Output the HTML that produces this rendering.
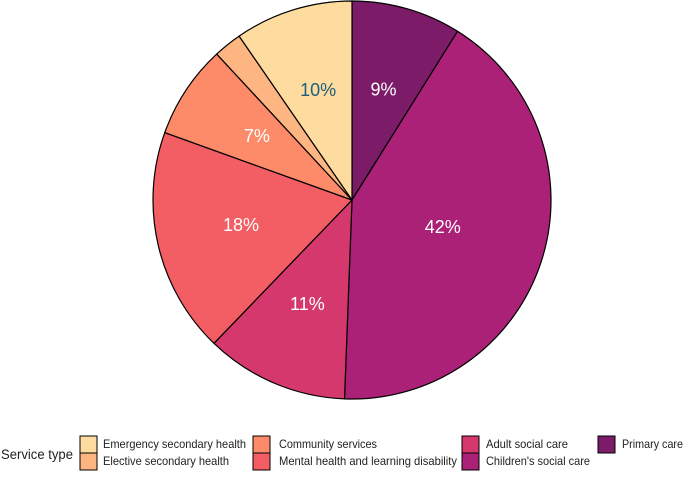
<!DOCTYPE html>
<html><head><meta charset="utf-8"><style>
body{margin:0;background:#fff;}
svg text{font-family:"Liberation Sans",sans-serif;}
</style></head><body>
<svg width="685" height="474" viewBox="0 0 685 474">
<g id="pie"></g>
<g id="legend">
<text x="1" y="459" font-size="13.5" textLength="72" lengthAdjust="spacingAndGlyphs" fill="#222">Service type</text>
</g>
</svg>
<script>
const categories=["Primary care","Children's social care","Adult social care","Mental health and learning disability","Community services","Elective secondary health","Emergency secondary health"];
const values=[8.9,41.7,11.6,18.3,7.6,2.3,9.6];
const labels=["9%","42%","11%","18%","7%","","10%"];
const colors=["#7c1b67","#aa2177","#d5386d","#f25e63","#fd8b69","#fdb681","#fedb9e"];
const NS="http://www.w3.org/2000/svg";
const cx=352,cy=200,R=199;
const total=values.reduce((a,b)=>a+b,0);
function pt(frac,r){const a=frac*2*Math.PI;return [cx+r*Math.sin(a),cy-r*Math.cos(a)];}
const pie=document.getElementById('pie');
let cum=0;
values.forEach((v,i)=>{
  const f0=cum/total,f1=(cum+v)/total;cum+=v;
  const [x0,y0]=pt(f0,R),[x1,y1]=pt(f1,R);
  const p=document.createElementNS(NS,'path');
  p.setAttribute('d',`M${cx},${cy}L${x0},${y0}A${R},${R} 0 ${f1-f0>0.5?1:0} 1 ${x1},${y1}Z`);
  p.setAttribute('fill',colors[i]);p.setAttribute('stroke','#000');p.setAttribute('stroke-width','1.2');
  
  
  pie.appendChild(p);
});
cum=0;
values.forEach((v,i)=>{
  const fm=(cum+v/2)/total;cum+=v;
  if(!labels[i])return;
  const [x,y]=pt(fm,i===1?95:114);
  const t=document.createElementNS(NS,'text');
  t.setAttribute('x',x);t.setAttribute('y',y+5);t.setAttribute('text-anchor','middle');
  t.setAttribute('font-size','18');t.setAttribute('fill',i===6?'#1d5f7a':'#fff');
  t.textContent=labels[i];
  
  
  pie.appendChild(t);
});
const leg=document.getElementById('legend');
const order=[6,5,4,3,2,1,0];
const keyX=[80,253,462,598];
const txtX=[103,279,486,622];
const txtW={6:143,5:126,4:98,3:178,2:82,1:104,0:61};
order.forEach((ci,k)=>{
  const col=Math.floor(k/2),row=k%2;
  const y=436+row*17;
  const r=document.createElementNS(NS,'rect');
  r.setAttribute('x',keyX[col]);r.setAttribute('y',y);r.setAttribute('width',17);r.setAttribute('height',17);
  r.setAttribute('fill',colors[ci]);r.setAttribute('stroke','#000');r.setAttribute('stroke-width','1');
  
  
  leg.appendChild(r);
  const t=document.createElementNS(NS,'text');
  t.setAttribute('x',txtX[col]);t.setAttribute('y',y+12);t.setAttribute('font-size','12');t.setAttribute('fill','#222');
  t.setAttribute('textLength',txtW[ci]);t.setAttribute('lengthAdjust','spacingAndGlyphs');
  t.textContent=categories[ci];
  
  
  leg.appendChild(t);
});
</script>
</body></html>
